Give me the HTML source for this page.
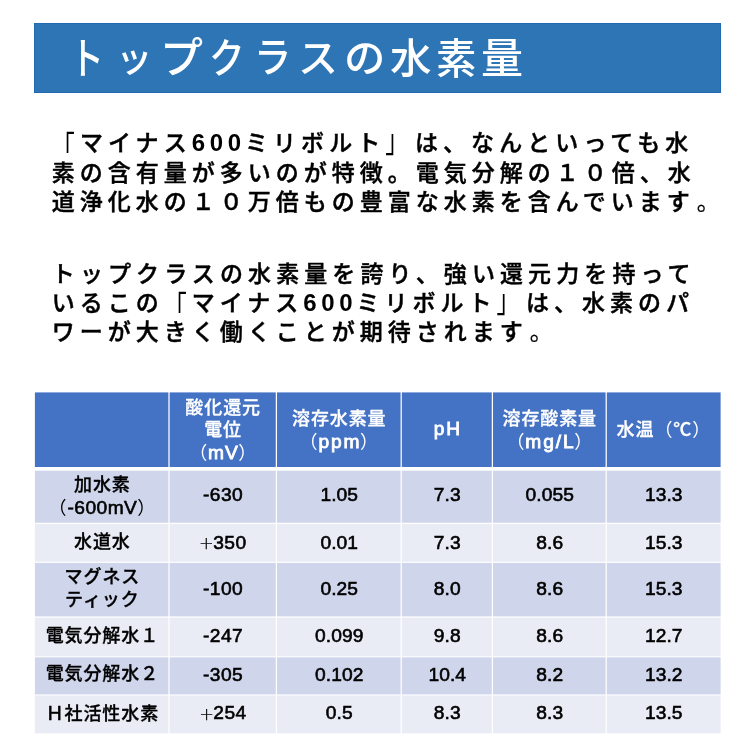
<!DOCTYPE html>
<html lang="ja">
<head>
<meta charset="utf-8">
<title>トップクラスの水素量</title>
<style>
html,body{margin:0;padding:0;}
body{width:750px;height:750px;position:relative;overflow:hidden;background:#fff;
  font-family:"Liberation Sans","Noto Sans CJK JP",sans-serif;color:#000;}
.bar{position:absolute;left:34px;top:23px;width:687px;height:70px;background:#2E75B6;box-shadow:inset 0 0 0 1px #2169B1;}
.title{position:absolute;left:69.90px;top:0;margin:0;color:#fff;font-weight:500;white-space:nowrap;font-size:0;line-height:0;}
.title span{position:relative;display:inline-block;vertical-align:top;line-height:1;white-space:nowrap;transform-origin:0 0;}
.ln{position:absolute;left:51.8px;white-space:nowrap;font-size:23px;font-weight:500;
  letter-spacing:5px;line-height:30px;height:30px;-webkit-text-stroke:0.45px #000;}
.tbl{position:absolute;left:0;top:0;font-weight:500;font-size:18px;line-height:22.5px;letter-spacing:0.9px;-webkit-text-stroke:0.3px currentColor;}
.s{position:absolute;left:34px;width:687px;}
.v{position:absolute;top:392px;height:342px;width:1px;}
.tr{position:absolute;left:0;width:750px;}
.td{position:absolute;top:0;height:100%;display:flex;align-items:center;justify-content:center;text-align:center;white-space:nowrap;}
.h .td{color:#fff;}
.c{padding-left:0.9px;}
.l,.n{font-size:19.2px;letter-spacing:0.45px;font-weight:400;-webkit-text-stroke:0.6px currentColor;}
.t{letter-spacing:0.45px;}
.d{letter-spacing:0.05px;}
.h .l{letter-spacing:1.9px;margin-right:-1.45px;-webkit-text-stroke:0.85px currentColor;}
.h .mv{letter-spacing:0.9px;margin-right:-0.45px;}
.p{font-weight:400;-webkit-text-stroke:0;}
.pl{font-family:"DejaVu Sans",sans-serif;font-weight:200;font-size:17.5px;letter-spacing:0;-webkit-text-stroke:0.25px currentColor;position:relative;top:0.5px;margin-right:-0.5px;}
.bo,.bc{display:inline-block;font-weight:400;-webkit-text-stroke:0;transform:scaleY(1.37);}
.bo{transform-origin:50% 1.4px;}
.bc{transform-origin:50% 21px;margin-right:1.5px;}
.ku{position:relative;left:2px;font-weight:400;-webkit-text-stroke:0.2px #000;}
.dg{font-size:24px;font-weight:700;-webkit-text-stroke:0;letter-spacing:4.66px;margin-right:-0.9px;}
</style>
</head>
<body>
<div class="bar"></div>
<h1 class="title"><span style="width:46.03px;top:36.99px;font-size:43.64px;transform:scaleX(0.778)">ト</span><span style="width:44.26px;top:41.72px;font-size:36.88px;transform:scaleX(0.991)">ッ</span><span style="width:48.71px;top:38.13px;font-size:42.19px;transform:scaleX(1.018)">プ</span><span style="width:44.70px;top:39.05px;font-size:41.03px;transform:scaleX(0.868)">ク</span><span style="width:44.84px;top:37.26px;font-size:41.47px;transform:scaleX(0.897)">ラ</span><span style="width:46.07px;top:39.89px;font-size:38.36px;transform:scaleX(1.041)">ス</span><span style="width:45.41px;top:40.11px;font-size:38.77px;transform:scaleX(1.067)">の</span><span style="width:46.43px;top:39.26px;font-size:40.95px;transform:scaleX(1.014)">水</span><span style="width:44.42px;top:38.64px;font-size:42.39px;transform:scaleX(0.952)">素</span><span style="width:41.24px;top:39.32px;font-size:41.24px;transform:scaleX(1.020)">量</span></h1>

<div class="ln" style="top:128px;letter-spacing:5.08px"><span class="bo">「</span>マイナス<span class="dg">600</span>ミリボルト<span class="bc">」</span>は、なんといっても水</div>
<div class="ln" style="top:158px">素の含有量が多いのが特徴。電気分解の１０倍、水</div>
<div class="ln" style="top:187px">道浄化水の１０万倍もの豊富な水素を含んでいます<span class="ku">。</span></div>

<div class="ln" style="top:259px;letter-spacing:5.1px">トップクラスの水素量を誇り、強い還元力を持って</div>
<div class="ln" style="top:288px">いるこの<span class="bo">「</span>マイナス<span class="dg">600</span>ミリボルト<span class="bc">」</span>は、水素のパ</div>
<div class="ln" style="top:317px">ワーが大きく働くことが期待されます<span class="ku">。</span></div>

<div class="tbl" role="table">
<div class="s" style="top:392px;height:1px;background:#8FAADC"></div>
<div class="s" style="top:393px;height:74px;background:#4472C4"></div>
<div class="s" style="top:470px;height:1px;background:#F1F2F9"></div>
<div class="s" style="top:471px;height:51px;background:#CFD5EA"></div>
<div class="s" style="top:522px;height:1px;background:#DBE0EF"></div>
<div class="s" style="top:523px;height:1px;background:#FEFEFF"></div>
<div class="s" style="top:524px;height:37px;background:#E9EBF5"></div>
<div class="s" style="top:561px;height:1px;background:#F0F1F8"></div>
<div class="s" style="top:562px;height:1px;background:#FAFBFD"></div>
<div class="s" style="top:563px;height:53px;background:#CFD5EA"></div>
<div class="s" style="top:616px;height:1px;background:#ECEEF7"></div>
<div class="s" style="top:617px;height:1px;background:#F7F8FB"></div>
<div class="s" style="top:618px;height:38px;background:#E9EBF5"></div>
<div class="s" style="top:656px;height:1px;background:#F8F9FC"></div>
<div class="s" style="top:657px;height:1px;background:#E0E4F1"></div>
<div class="s" style="top:658px;height:36px;background:#CFD5EA"></div>
<div class="s" style="top:694px;height:1px;background:#ECEEF7"></div>
<div class="s" style="top:695px;height:1px;background:#F4F5FA"></div>
<div class="s" style="top:696px;height:37px;background:#E9EBF5"></div>
<div class="s" style="top:733px;height:1px;background:#F8F9FC"></div>
<div class="v" style="left:168px;background:rgba(255,255,255,0.62)"></div>
<div class="v" style="left:169px;background:rgba(255,255,255,0.62)"></div>
<div class="v" style="left:275px;background:rgba(255,255,255,0.23)"></div>
<div class="v" style="left:276px;background:rgba(255,255,255,1.00)"></div>
<div class="v" style="left:277px;background:rgba(255,255,255,0.02)"></div>
<div class="v" style="left:400px;background:rgba(255,255,255,0.43)"></div>
<div class="v" style="left:401px;background:rgba(255,255,255,0.82)"></div>
<div class="v" style="left:491px;background:rgba(255,255,255,0.23)"></div>
<div class="v" style="left:492px;background:rgba(255,255,255,1.00)"></div>
<div class="v" style="left:493px;background:rgba(255,255,255,0.02)"></div>
<div class="v" style="left:605px;background:rgba(255,255,255,0.42)"></div>
<div class="v" style="left:606px;background:rgba(255,255,255,0.83)"></div>
<div class="v" style="left:34px;background:rgba(255,255,255,0.90)"></div>
<div class="v" style="left:720px;background:rgba(255,255,255,0.40)"></div>
<div class="tr h" role="row" style="top:392.40px;height:74.60px">
<div class="td" role="cell" style="left:34.90px;width:134.10px"></div>
<div class="td" role="cell" style="left:169.00px;width:107.40px"><div class="c" style="transform:translate(0.00px,0.50px)">酸化還元<br>電位<br><span class="p">（</span><span class="l mv">mV</span><span class="p">）</span></div></div>
<div class="td" role="cell" style="left:276.40px;width:124.80px"><div class="c" style="transform:translate(0.00px,0.50px)">溶存水素量<br><span class="p">（</span><span class="l">ppm</span><span class="p">）</span></div></div>
<div class="td" role="cell" style="left:401.20px;width:91.20px"><div class="c" style="transform:translate(0.00px,0.10px)"><span class="l">pH</span></div></div>
<div class="td" role="cell" style="left:492.40px;width:113.80px"><div class="c" style="transform:translate(0.00px,0.50px)">溶存酸素量<br><span class="p">（</span><span class="l">mg/L</span><span class="p">）</span></div></div>
<div class="td" role="cell" style="left:606.20px;width:114.40px"><div class="c" style="transform:translate(0.00px,0.50px)">水温<span class="p">（</span>℃<span class="p">）</span></div></div>
</div>
<div class="tr a" role="row" style="top:470.70px;height:52.05px">
<div class="td" role="cell" style="left:34.90px;width:134.10px"><div class="c" style="transform:translate(0.00px,-0.10px)">加水素<br><span class="p">（</span><span class="l t">-600mV</span><span class="p">）</span></div></div>
<div class="td" role="cell" style="left:169.00px;width:107.40px"><div class="c" style="transform:translate(0.00px,-1.50px)"><span class="n">-630</span></div></div>
<div class="td" role="cell" style="left:276.40px;width:124.80px"><div class="c" style="transform:translate(0.00px,-1.50px)"><span class="n d">1.05</span></div></div>
<div class="td" role="cell" style="left:401.20px;width:91.20px"><div class="c" style="transform:translate(0.00px,-1.50px)"><span class="n d">7.3</span></div></div>
<div class="td" role="cell" style="left:492.40px;width:113.80px"><div class="c" style="transform:translate(0.00px,-1.50px)"><span class="n d">0.055</span></div></div>
<div class="td" role="cell" style="left:606.20px;width:114.40px"><div class="c" style="transform:translate(0.00px,-1.50px)"><span class="n d">13.3</span></div></div>
</div>
<div class="tr b" role="row" style="top:523.95px;height:37.75px">
<div class="td" role="cell" style="left:34.90px;width:134.10px"><div class="c" style="transform:translate(0.00px,-0.80px)">水道水</div></div>
<div class="td" role="cell" style="left:169.00px;width:107.40px"><div class="c" style="transform:translate(-0.30px,-0.50px)"><span class="n"><span class="pl">+</span>350</span></div></div>
<div class="td" role="cell" style="left:276.40px;width:124.80px"><div class="c" style="transform:translate(0.00px,-0.50px)"><span class="n d">0.01</span></div></div>
<div class="td" role="cell" style="left:401.20px;width:91.20px"><div class="c" style="transform:translate(0.00px,-0.50px)"><span class="n d">7.3</span></div></div>
<div class="td" role="cell" style="left:492.40px;width:113.80px"><div class="c" style="transform:translate(0.00px,-0.50px)"><span class="n d">8.6</span></div></div>
<div class="td" role="cell" style="left:606.20px;width:114.40px"><div class="c" style="transform:translate(0.00px,-0.50px)"><span class="n d">15.3</span></div></div>
</div>
<div class="tr a" role="row" style="top:562.90px;height:53.50px">
<div class="td" role="cell" style="left:34.90px;width:134.10px"><div class="c" style="transform:translate(0.00px,-1.10px)">マグネス<br>ティック</div></div>
<div class="td" role="cell" style="left:169.00px;width:107.40px"><div class="c" style="transform:translate(0.00px,0.00px)"><span class="n">-100</span></div></div>
<div class="td" role="cell" style="left:276.40px;width:124.80px"><div class="c" style="transform:translate(0.00px,0.00px)"><span class="n d">0.25</span></div></div>
<div class="td" role="cell" style="left:401.20px;width:91.20px"><div class="c" style="transform:translate(0.00px,0.00px)"><span class="n d">8.0</span></div></div>
<div class="td" role="cell" style="left:492.40px;width:113.80px"><div class="c" style="transform:translate(0.00px,0.00px)"><span class="n d">8.6</span></div></div>
<div class="td" role="cell" style="left:606.20px;width:114.40px"><div class="c" style="transform:translate(0.00px,0.00px)"><span class="n d">15.3</span></div></div>
</div>
<div class="tr b" role="row" style="top:617.65px;height:38.65px">
<div class="td" role="cell" style="left:34.90px;width:134.10px"><div class="c" style="transform:translate(0.00px,-1.50px)">電気分解水１</div></div>
<div class="td" role="cell" style="left:169.00px;width:107.40px"><div class="c" style="transform:translate(0.00px,-1.50px)"><span class="n">-247</span></div></div>
<div class="td" role="cell" style="left:276.40px;width:124.80px"><div class="c" style="transform:translate(0.00px,-1.50px)"><span class="n d">0.099</span></div></div>
<div class="td" role="cell" style="left:401.20px;width:91.20px"><div class="c" style="transform:translate(0.00px,-1.50px)"><span class="n d">9.8</span></div></div>
<div class="td" role="cell" style="left:492.40px;width:113.80px"><div class="c" style="transform:translate(0.00px,-1.50px)"><span class="n d">8.6</span></div></div>
<div class="td" role="cell" style="left:606.20px;width:114.40px"><div class="c" style="transform:translate(0.00px,-1.50px)"><span class="n d">12.7</span></div></div>
</div>
<div class="tr a" role="row" style="top:657.35px;height:37.05px">
<div class="td" role="cell" style="left:34.90px;width:134.10px"><div class="c" style="transform:translate(0.00px,-2.00px)">電気分解水２</div></div>
<div class="td" role="cell" style="left:169.00px;width:107.40px"><div class="c" style="transform:translate(0.00px,-1.50px)"><span class="n">-305</span></div></div>
<div class="td" role="cell" style="left:276.40px;width:124.80px"><div class="c" style="transform:translate(0.00px,-1.50px)"><span class="n d">0.102</span></div></div>
<div class="td" role="cell" style="left:401.20px;width:91.20px"><div class="c" style="transform:translate(0.00px,-1.50px)"><span class="n d">10.4</span></div></div>
<div class="td" role="cell" style="left:492.40px;width:113.80px"><div class="c" style="transform:translate(0.00px,-1.50px)"><span class="n d">8.2</span></div></div>
<div class="td" role="cell" style="left:606.20px;width:114.40px"><div class="c" style="transform:translate(0.00px,-1.50px)"><span class="n d">13.2</span></div></div>
</div>
<div class="tr b" role="row" style="top:695.50px;height:37.80px">
<div class="td" role="cell" style="left:34.90px;width:134.10px"><div class="c" style="transform:translate(0.00px,-0.50px)">Ｈ社活性水素</div></div>
<div class="td" role="cell" style="left:169.00px;width:107.40px"><div class="c" style="transform:translate(-0.20px,-1.25px)"><span class="n"><span class="pl">+</span>254</span></div></div>
<div class="td" role="cell" style="left:276.40px;width:124.80px"><div class="c" style="transform:translate(0.00px,-1.25px)"><span class="n d">0.5</span></div></div>
<div class="td" role="cell" style="left:401.20px;width:91.20px"><div class="c" style="transform:translate(0.00px,-1.25px)"><span class="n d">8.3</span></div></div>
<div class="td" role="cell" style="left:492.40px;width:113.80px"><div class="c" style="transform:translate(0.00px,-1.25px)"><span class="n d">8.3</span></div></div>
<div class="td" role="cell" style="left:606.20px;width:114.40px"><div class="c" style="transform:translate(0.00px,-1.25px)"><span class="n d">13.5</span></div></div>
</div>
</div>
</body>
</html>
